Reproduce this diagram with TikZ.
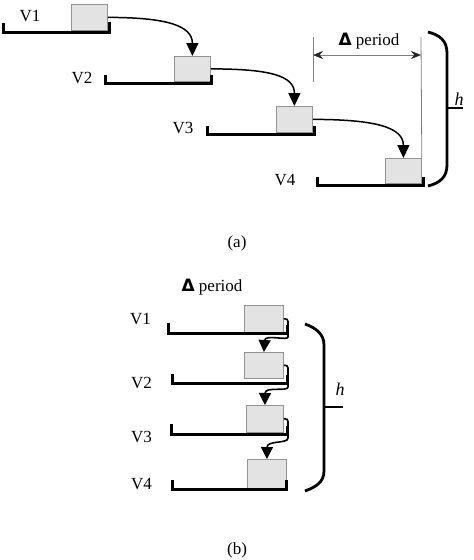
\documentclass[tikz,border=0pt]{standalone}
\usepackage{fontspec}
\setmainfont{Liberation Serif}
\newfontfamily\symf{DejaVu Sans}
\usetikzlibrary{arrows.meta}
\begin{document}
\begin{tikzpicture}[x=1pt,y=-1pt,
 pkt/.style={draw=gray!85, fill=gray!22, line width=0.8pt, inner sep=0pt, anchor=north west},
 tray/.style={line width=3pt},
 conn/.style={line width=1.5pt, -{Triangle[length=13pt,width=12pt]}},
 connb/.style={line width=1.6pt, rounded corners=3pt, -{Triangle[length=12pt,width=12pt]}},
 lbl/.style={font=\fontsize{17}{17}\selectfont, inner sep=0pt},
 captxt/.style={font=\fontsize{17}{17}\selectfont, inner sep=0pt},
 dim/.style={draw=gray, line width=0.8pt},
 dimarr/.style={draw=gray, line width=0.8pt, {Stealth[length=10pt,width=8pt,black!85]}-{Stealth[length=10pt,width=8pt,black!85]}},
 brace/.style={line width=2.8pt}]
\useasboundingbox (0,0) rectangle (474,560);
\fill[white] (0,0) rectangle (474,560);

% ---------- (a) ----------
\node[pkt, minimum width=36pt, minimum height=26pt] (a1) at (71,4) {};
\node[pkt, minimum width=36pt, minimum height=25pt] (a2) at (174,56) {};
\node[pkt, minimum width=36pt, minimum height=26pt] (a3) at (276,106) {};
\node[pkt, minimum width=36pt, minimum height=25pt] (a4) at (385,158) {};

\draw[tray] (3,23) |- (109,32) -- (109,22);
\draw[tray] (105,75) |- (211,83) -- (211,75);
\draw[tray] (207,126) |- (314,134) -- (314,126);
\draw[tray] (317,177) |- (423,185) -- (423,177);

\node[lbl] (la1) at (30,16) {V1};
\node[lbl] (la2) at (82,78) {V2};
\node[lbl] (la3) at (183,128) {V3};
\node[lbl] (la4) at (285,180) {V4};

\draw[conn] (a1.east) .. controls +(60,0) and +(0,-30) .. (a2.north);
\draw[conn] (a2.east) .. controls +(60,0) and +(0,-30) .. (a3.north);
\draw[conn] (a3.east) .. controls +(65,0) and +(0,-30) .. (a4.north);

\coordinate (dl) at (313,37);
\coordinate (dr) at (421,37);
\draw[dim] (dl) -- (313,82);
\draw[dim] (dr) -- (a4.north east);
\draw[dimarr] (313,55) -- (421,55);
\node[lbl] (dpa) at (369,41) {{\symf\bfseries Δ} period};

\coordinate (ba1) at (428,32);
\coordinate (ba2) at (428,186);
\coordinate (bam) at (447,108);
\draw[brace] (ba1) .. controls (440,35) and (447,41) .. (447,53) -- (447,165) .. controls (447,177) and (440,183) .. (ba2);
\draw[brace] (bam) -- (463,108);
\node[lbl, font=\fontsize{18}{18}\selectfont\itshape] (ha) at (459,99) {h};

\node[captxt] (capa) at (237,243) {(a)};

% ---------- (b) ----------
\node[lbl] (dpb) at (212,287) {{\symf\bfseries Δ} period};

\node[pkt, minimum width=39pt, minimum height=27pt] (b1) at (244,305) {};
\node[pkt, minimum width=39pt, minimum height=26pt] (b2) at (244,352) {};
\node[pkt, minimum width=37pt, minimum height=27pt] (b3) at (246,405) {};
\node[pkt, minimum width=39pt, minimum height=29pt] (b4) at (247,459) {};

\draw[tray] (168,323) |- (287,333) -- (287,325);
\draw[tray] (172,374) |- (287,383) -- (287,375);
\draw[tray] (171,424) |- (287,434) -- (287,426);
\draw[tray] (172,480) |- (286,489) -- (286,480);

\node[lbl, anchor=east] (lb1) at (151,319) {V1};
\node[lbl, anchor=east] (lb2) at (152,383) {V2};
\node[lbl, anchor=east] (lb3) at (152,437) {V3};
\node[lbl, anchor=east] (lb4) at (152,484) {V4};

\draw[connb] (b1.east) -- (288,318.5) -- (288,334) .. controls (288,341) and (265,334) .. (b2.north);
\draw[connb] (b2.east) -- (288,365) -- (288,384) .. controls (288,392) and (265,386) .. (b3.north);
\draw[connb] (b3.east) -- (288,418.5) -- (288,435) .. controls (288,444) and (267,440) .. (b4.north);

\coordinate (bb1) at (305,324);
\coordinate (bb2) at (305,491);
\coordinate (bbm) at (324,407);
\draw[brace] (bb1) .. controls (316,328) and (324,334) .. (324,345) -- (324,471) .. controls (324,482) and (316,487) .. (bb2);
\draw[brace] (bbm) -- (343,407);
\node[lbl, font=\fontsize{18}{18}\selectfont\itshape] (hb) at (340,389) {h};

\node[captxt] (capb) at (237,550) {(b)};
\end{tikzpicture}
\end{document}
